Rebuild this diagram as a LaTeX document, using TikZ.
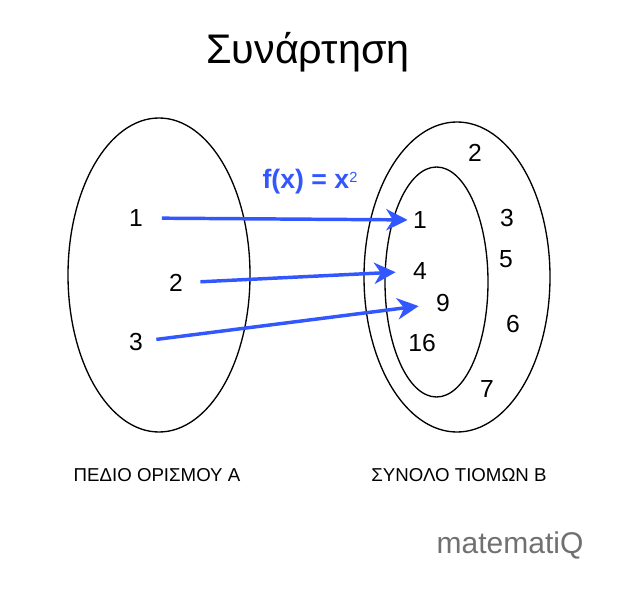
\documentclass[tikz,border=0pt]{standalone}
\usepackage{fontspec}
\setmainfont{Liberation Sans}
\usetikzlibrary{arrows.meta}
\definecolor{mapblue}{RGB}{51,87,255}
\definecolor{logogray}{RGB}{112,112,112}
\tikzset{
  num/.style={font=\fontsize{18.5}{20}\selectfont, inner sep=0pt},
  setlabel/.style={font=\fontsize{14}{16}\selectfont},
  mapsto/.style={draw=mapblue, line width=2.6pt, -{Stealth[length=16pt,width=16pt,inset=5pt]}}
}
\begin{document}
\begin{tikzpicture}[x=0.75pt, y=-0.75pt]
\useasboundingbox (0,0) rectangle (634,598);
% title
\node[font=\fontsize{31}{34}\selectfont] (title) at (308,52) {Συνάρτηση};
% sets
\draw[line width=1pt] (159,275) ellipse [x radius=91, y radius=157];
\draw[line width=1pt] (457,277) ellipse [x radius=93, y radius=155];
\draw[line width=1pt] (436.5,282) ellipse [x radius=51.5, y radius=115];
% domain
\node[num] (a1) at (136,218) {1};
\node[num] (a2) at (176,283) {2};
\node[num] (a3) at (136,342) {3};
% codomain
\node[num] (b1) at (420,220) {1};
\node[num] (b4) at (420,271) {4};
\node[num] (b9) at (443,303) {9};
\node[num] (b16) at (422,343) {16};
\node[num] (c2) at (475,153) {2};
\node[num] (c3) at (507,218) {3};
\node[num] (c5) at (506,259) {5};
\node[num] (c6) at (513,324) {6};
\node[num] (c7) at (487,389) {7};
% the function
\node[text=mapblue, font=\fontsize{20}{22}\selectfont\bfseries] (rule) at (310,182)
  {f(x) = x\raisebox{5pt}{\fontsize{11}{12}\selectfont\mdseries 2}};
\draw[mapsto, shorten <=14pt, shorten >=4pt] (a1) -- (b1);
\draw[mapsto, shorten <=13pt, shorten >=13pt] (a2) -- (b4);
\draw[mapsto, shorten <=10pt, shorten >=13pt] (a3) -- (b9);
% labels
\node[setlabel] (dom) at (157,475) {ΠΕΔΙΟ ΟΡΙΣΜΟΥ Α};
\node[setlabel] (cod) at (459,475) {ΣΥΝΟΛΟ ΤΙΟΜΩΝ Β};
\node[text=logogray, font=\fontsize{22.5}{24}\selectfont] (logo) at (510,545) {matematiQ};
\end{tikzpicture}
\end{document}
